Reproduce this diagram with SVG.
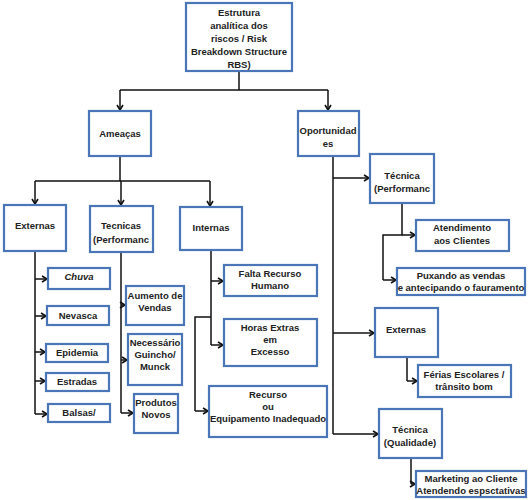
<svg xmlns="http://www.w3.org/2000/svg" width="530" height="500" viewBox="0 0 530 500">
<defs>
<marker id="ah" markerWidth="8" markerHeight="8" refX="6" refY="4" orient="auto" markerUnits="userSpaceOnUse">
<path d="M1,1 L6,4 L1,7" fill="none" stroke="#111" stroke-width="1.6"/>
</marker>
</defs>
<style>
.b{fill:#fff;stroke:#4a76b8;stroke-width:2.2}
.t{font-family:"Liberation Sans",Arial,sans-serif;font-weight:bold;font-size:9.5px;fill:#222;text-anchor:middle}
.c{fill:none;stroke:#111;stroke-width:1.5}
.a{fill:none;stroke:#111;stroke-width:1.5;marker-end:url(#ah)}
</style>
<rect width="530" height="500" fill="#fff"/>
<g id="connectors">
<path class="c" d="M239,71 V90 M120,90 H328"/>
<path class="a" d="M120,90 V110"/>
<path class="a" d="M328,90 V110"/>
<path class="c" d="M120,156 V181 M35,181 H210"/>
<path class="a" d="M35,181 V204"/>
<path class="a" d="M121,181 V205"/>
<path class="a" d="M210,181 V206"/>
<path class="c" d="M35,251 V414"/>
<path class="a" d="M35,279 H47"/>
<path class="a" d="M35,316 H46"/>
<path class="a" d="M35,352 H45"/>
<path class="a" d="M35,381 H45"/>
<path class="a" d="M35,414 H47"/>
<path class="c" d="M121,252 V413"/>
<path class="a" d="M121,305 H125"/>
<path class="a" d="M121,360 H127"/>
<path class="a" d="M121,413 H133"/>
<path class="c" d="M211,250 V345"/>
<path class="a" d="M211,281 H223"/>
<path class="a" d="M211,345 H223"/>
<path class="c" d="M211,317 H195 V411"/>
<path class="a" d="M195,411 H208"/>
<path class="c" d="M333,156 V434"/>
<path class="a" d="M333,178 H369"/>
<path class="a" d="M333,333 H374"/>
<path class="a" d="M333,434 H378"/>
<path class="c" d="M402,203 V235 H383 V280"/>
<path class="a" d="M402,235 H415"/>
<path class="a" d="M383,280 H396"/>
<path class="c" d="M407,357 V381"/>
<path class="a" d="M407,381 H417"/>
<path class="c" d="M411,458 V484"/>
<path class="a" d="M411,484 H415"/>
</g>
<g id="root"><rect class="b" x="186" y="3" width="106" height="68"/>
<text class="t" x="239" y="16">Estrutura</text><text class="t" x="239" y="29">analítica dos</text><text class="t" x="239" y="42">riscos / Risk</text><text class="t" x="239" y="55">Breakdown Structure</text><text class="t" x="239" y="68">RBS)</text></g>
<g id="ameacas"><rect class="b" x="89" y="111" width="62" height="45"/><text class="t" x="120" y="137">Ameaças</text></g>
<g id="oportunidades"><rect class="b" x="298" y="111" width="61" height="45"/><text class="t" x="328" y="134">Oportunidad</text><text class="t" x="328" y="147">es</text></g>
<g id="externas"><rect class="b" x="4" y="205" width="62" height="46"/><text class="t" x="35" y="229">Externas</text></g>
<g id="tecnicas"><rect class="b" x="90" y="206" width="63" height="46"/><text class="t" x="121" y="229">Tecnicas</text><text class="t" x="121" y="243">(Performanc</text></g>
<g id="internas"><rect class="b" x="180" y="207" width="62" height="43"/><text class="t" x="211" y="231">Internas</text></g>
<g id="chuva"><rect class="b" x="48" y="268" width="62" height="21"/><text class="t" x="79" y="280" font-style="italic">Chuva</text></g>
<g id="nevasca"><rect class="b" x="47" y="306" width="62" height="19"/><text class="t" x="78" y="319">Nevasca</text></g>
<g id="epidemia"><rect class="b" x="46" y="344" width="62" height="18"/><text class="t" x="77" y="356">Epidemia</text></g>
<g id="estradas"><rect class="b" x="46" y="373" width="63" height="18"/><text class="t" x="77" y="385">Estradas</text></g>
<g id="balsas"><rect class="b" x="48" y="404" width="62" height="18"/><text class="t" x="79" y="416">Balsas/</text></g>
<g id="aumento"><rect class="b" x="126" y="286" width="58" height="39"/><text class="t" x="155" y="299">Aumento de</text><text class="t" x="155" y="311">Vendas</text></g>
<g id="guincho"><rect class="b" x="128" y="334" width="54" height="51"/><text class="t" x="155" y="346">Necessário</text><text class="t" x="155" y="358">Guincho/</text><text class="t" x="155" y="370">Munck</text></g>
<g id="produtos"><rect class="b" x="134" y="394" width="44" height="39"/><text class="t" x="156" y="406">Produtos</text><text class="t" x="156" y="418">Novos</text></g>
<g id="falta"><rect class="b" x="224" y="265" width="93" height="31"/><text class="t" x="270" y="277">Falta Recurso</text><text class="t" x="270" y="289">Humano</text></g>
<g id="horas"><rect class="b" x="224" y="319" width="93" height="47"/><text class="t" x="270" y="331">Horas Extras</text><text class="t" x="270" y="343">em</text><text class="t" x="270" y="355">Excesso</text></g>
<g id="recurso"><rect class="b" x="209" y="386" width="118" height="51"/><text class="t" x="268" y="398">Recurso</text><text class="t" x="268" y="410">ou</text><text class="t" x="268" y="422">Equipamento Inadequado</text></g>
<g id="tecnica-perf"><rect class="b" x="370" y="154" width="64" height="49"/><text class="t" x="402" y="179">Técnica</text><text class="t" x="402" y="192">(Performanc</text></g>
<g id="atendimento"><rect class="b" x="416" y="220" width="93" height="31"/><text class="t" x="462" y="231">Atendimento</text><text class="t" x="462" y="244">aos Clientes</text></g>
<g id="puxando"><rect class="b" x="397" y="268" width="128" height="27"/><text class="t" x="461" y="279">Puxando as vendas</text><text class="t" x="461" y="291">e antecipando o fauramento</text></g>
<g id="externas-op"><rect class="b" x="375" y="308" width="63" height="49"/><text class="t" x="406" y="333">Externas</text></g>
<g id="ferias"><rect class="b" x="418" y="365" width="93" height="32"/><text class="t" x="464" y="378">Férias Escolares /</text><text class="t" x="464" y="390">trânsito bom</text></g>
<g id="tecnica-qual"><rect class="b" x="379" y="409" width="63" height="49"/><text class="t" x="410" y="433">Técnica</text><text class="t" x="410" y="446">(Qualidade)</text></g>
<g id="marketing"><rect class="b" x="416" y="471" width="110" height="26"/><text class="t" x="471" y="482">Marketing ao Cliente</text><text class="t" x="471" y="494">Atendendo espsctativas</text></g>
</svg>
